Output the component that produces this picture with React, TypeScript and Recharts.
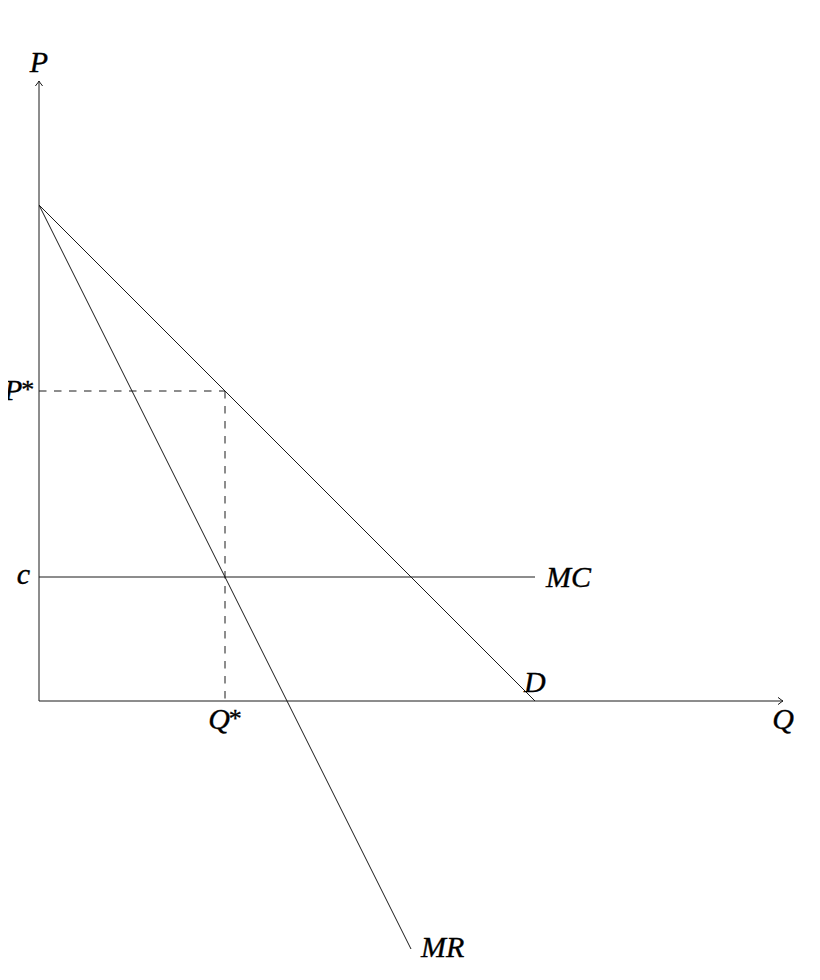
import React from "react";
import {
  ComposedChart,
  Line,
  XAxis,
  YAxis,
  ReferenceLine,
  ReferenceDot,
} from "recharts";

// ---- data (model units) ----
const demandQ = [0, 8];
const demandP = [8, 0];
const mrQ = [0, 6];
const mrP = [8, -4];
const mcLevel = 2;
const mcQ = [0, 8];
const pStar = 5;
const qStar = 3;
const xDomain: [number, number] = [0, 12];
const yDomain: [number, number] = [-4, 10];

const demandData = demandQ.map((q, i) => ({ q, p: demandP[i] }));
const mrData = mrQ.map((q, i) => ({ q, p: mrP[i] }));

// labels: text, anchor point in data units
const labelTexts = ["P", "Q", "P*", "c", "MC", "D", "Q*", "MR"];
const labelQ = [0, 12, 0, 0, 8, 8, 3, 6];
const labelP = [10, 0, 5, 2, 2, 0, 0, -4];

// presentation (offsets in px) for each label
const labelStyle: Record<string, { dx: number; dy: number; anchor: string }> = {
  P: { dx: 0, dy: -9, anchor: "middle" },
  Q: { dx: 0, dy: 28, anchor: "middle" },
  "P*": { dx: -35, dy: 9, anchor: "start" },
  c: { dx: -9, dy: 7, anchor: "end" },
  MC: { dx: 11, dy: 10, anchor: "start" },
  D: { dx: -11, dy: -9, anchor: "start" },
  "Q*": { dx: 0, dy: 28, anchor: "middle" },
  MR: { dx: 10, dy: 8, anchor: "start" },
};

const INK = "#1a1a1a";
const FONT = "'Liberation Serif', 'Times New Roman', serif";

const ArrowLine = (props: any) => {
  const { x1, y1, x2, y2 } = props;
  const ang = Math.atan2(y2 - y1, x2 - x1);
  const L = 5;
  const W = 3.6;
  const bx = x2 - L * Math.cos(ang);
  const by = y2 - L * Math.sin(ang);
  const nx = -Math.sin(ang);
  const ny = Math.cos(ang);
  const ax = bx + W * nx;
  const ay = by + W * ny;
  const cx = bx - W * nx;
  const cy = by - W * ny;
  const mx = x2 - 1.2 * Math.cos(ang);
  const my = y2 - 1.2 * Math.sin(ang);
  return (
    <g>
      <line x1={x1} y1={y1} x2={x2} y2={y2} stroke={INK} strokeWidth={1} />
      <path
        d={`M${ax},${ay} Q${mx + 0.6 * nx},${my + 0.6 * ny} ${x2},${y2} Q${mx - 0.6 * nx},${my - 0.6 * ny} ${cx},${cy}`}
        fill="none"
        stroke={INK}
        strokeWidth={1}
      />
    </g>
  );
};

const makeLabel = (text: string) => (props: any) => {
  const vb = props.viewBox || {};
  const x = (vb.x ?? 0) + (vb.width ?? 0) / 2;
  const y = (vb.y ?? 0) + (vb.height ?? 0) / 2;
  const s = labelStyle[text];
  const hasStar = text.endsWith("*");
  const base = hasStar ? text.slice(0, -1) : text;
  return (
    <text
      x={x + s.dx}
      y={y + s.dy}
      textAnchor={s.anchor as any}
      fontFamily={FONT}
      fontStyle="italic"
      fontSize={30}
      fill="#000"
      stroke="#000"
      strokeWidth={0.35}
    >
      {base}
      {hasStar && (
        <tspan fontSize={26} fontStyle="normal" dx={-1} dy={-2}>
          *
        </tspan>
      )}
    </text>
  );
};

export default function App() {
  return (
    <div style={{ width: 812, height: 960, marginLeft: -8 }}>
      <ComposedChart
        width={812}
        height={960}
        margin={{ top: 73, left: 39, right: 29, bottom: 19 }}
        style={{ overflow: "visible" }}
      >
        <XAxis
          type="number"
          dataKey="q"
          domain={xDomain}
          allowDataOverflow
          hide
        />
        <YAxis type="number" domain={yDomain} allowDataOverflow hide />

        {/* axes with arrows */}
        <ReferenceLine
          segment={[
            { x: xDomain[0], y: 0 },
            { x: xDomain[1], y: 0 },
          ]}
          shape={ArrowLine}
          ifOverflow="visible"
        />
        <ReferenceLine
          segment={[
            { x: 0, y: 0 },
            { x: 0, y: yDomain[1] },
          ]}
          shape={ArrowLine}
          ifOverflow="visible"
        />

        {/* dashed guides */}
        <ReferenceLine
          segment={[
            { x: 0, y: pStar },
            { x: qStar, y: pStar },
          ]}
          stroke={INK}
          strokeWidth={1}
          strokeDasharray="7.5 7.5"
          ifOverflow="visible"
        />
        <ReferenceLine
          segment={[
            { x: qStar, y: pStar },
            { x: qStar, y: 0 },
          ]}
          stroke={INK}
          strokeWidth={1}
          strokeDasharray="7.5 7.5"
          ifOverflow="visible"
        />

        {/* MC */}
        <ReferenceLine
          segment={[
            { x: mcQ[0], y: mcLevel },
            { x: mcQ[1], y: mcLevel },
          ]}
          stroke={INK}
          strokeWidth={1}
          ifOverflow="visible"
        />

        <Line
          data={demandData}
          dataKey="p"
          type="linear"
          stroke={INK}
          strokeWidth={1}
          dot={false}
          activeDot={false}
          isAnimationActive={false}
        />
        <Line
          data={mrData}
          dataKey="p"
          type="linear"
          stroke={INK}
          strokeWidth={1}
          dot={false}
          activeDot={false}
          isAnimationActive={false}
        />

        {labelTexts.map((t, i) => (
          <ReferenceDot
            key={t}
            x={labelQ[i]}
            y={labelP[i]}
            r={0}
            fill="none"
            stroke="none"
            ifOverflow="visible"
            label={makeLabel(t)}
          />
        ))}
      </ComposedChart>
    </div>
  );
}
